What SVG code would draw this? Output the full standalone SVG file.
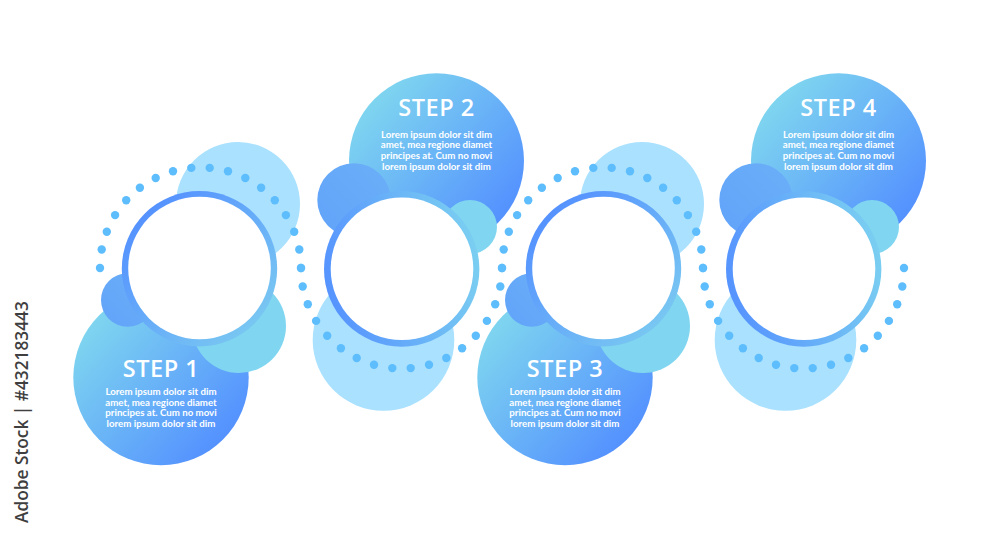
<svg xmlns="http://www.w3.org/2000/svg" xmlns:xlink="http://www.w3.org/1999/xlink" width="1000" height="539" viewBox="0 0 1000 539">
<style>
.light{fill:#a9e1ff}
.cyan{fill:#80d6f0}
.big{fill:url(#gBig)}
.small{fill:url(#gSmall)}
.hole{fill:#fff}
.h{font:600 23.5px "Open Sans","Liberation Sans",sans-serif;fill:#fff;text-anchor:middle;letter-spacing:.5px}
.b{font:700 9.7px Lato,"Liberation Sans",sans-serif;fill:#fff;text-anchor:middle}
.id{font:600 17.3px "Open Sans","Liberation Sans",sans-serif;fill:#3f3f3f}
.dot{fill:#5ebdfc}
</style>
<defs>
<linearGradient id="gBig" x1="0.12" y1="0.15" x2="0.88" y2="0.85"><stop offset="0" stop-color="#7fd6ef"/><stop offset="1" stop-color="#5390ff"/></linearGradient>
<linearGradient id="gSmall" x1="0.1" y1="0.9" x2="0.9" y2="0.1"><stop offset="0" stop-color="#62a4f9"/><stop offset="1" stop-color="#6aaef8"/></linearGradient>
<linearGradient id="gRing1" x1="0.15" y1="0.15" x2="0.85" y2="0.85"><stop offset="0" stop-color="#5592ff"/><stop offset="1" stop-color="#78c6f2"/></linearGradient>
<linearGradient id="gRing2" x1="0" y1="0.62" x2="1.115" y2="0.36"><stop offset="0" stop-color="#5592ff"/><stop offset="1" stop-color="#7fd6ef"/></linearGradient>
<g id="arc" class="dot">
<circle cx="-100.5" cy="0" r="4.2"/><circle cx="-98.8" cy="-18.5" r="4.2"/><circle cx="-93.7" cy="-36.3" r="4.2"/><circle cx="-85.4" cy="-52.9" r="4.2"/><circle cx="-74.3" cy="-67.7" r="4.2"/><circle cx="-60.6" cy="-80.2" r="4.2"/><circle cx="-44.8" cy="-90" r="4.2"/><circle cx="-27.5" cy="-96.7" r="4.2"/><circle cx="-9.2" cy="-100.1" r="4.2"/>
<circle cx="9.2" cy="-100.1" r="4.2"/><circle cx="27.5" cy="-96.7" r="4.2"/><circle cx="44.8" cy="-90" r="4.2"/><circle cx="60.6" cy="-80.2" r="4.2"/><circle cx="74.3" cy="-67.7" r="4.2"/><circle cx="85.4" cy="-52.9" r="4.2"/><circle cx="93.7" cy="-36.3" r="4.2"/><circle cx="98.8" cy="-18.5" r="4.2"/><circle cx="100.5" cy="0" r="4.2"/>
</g>
</defs>
<rect width="1000" height="539" fill="#fff"/>

<g id="step1">
<circle class="light" cx="238" cy="204" r="62"/>
<circle class="big" cx="161" cy="377.5" r="87.7"/>
<circle class="cyan" cx="239" cy="326" r="47"/>
<circle class="small" cx="127.7" cy="300" r="26.7"/>
<circle cx="199.5" cy="268.7" r="77.7" fill="url(#gRing1)"/>
<circle class="hole" cx="199.5" cy="268" r="71.3"/>
<text class="h" x="161" y="376.7">STEP 1</text>
<text class="b" x="161" y="395">Lorem ipsum dolor sit dim</text>
<text class="b" x="161" y="405.7">amet, mea regione diamet</text>
<text class="b" x="161" y="416.3">principes at. Cum no movi</text>
<text class="b" x="161" y="427">lorem ipsum dolor sit dim</text>
</g>

<g id="step2">
<circle class="light" cx="383.5" cy="340" r="70.8"/>
<circle class="big" cx="436.5" cy="160.7" r="87.5"/>
<circle class="small" cx="354" cy="200" r="36.7"/>
<circle class="cyan" cx="470" cy="227" r="27"/>
<circle cx="401.7" cy="269" r="77.7" fill="url(#gRing2)"/>
<circle class="hole" cx="402" cy="268.8" r="71.3"/>
<text class="h" x="436.5" y="115.7">STEP 2</text>
<text class="b" x="436.5" y="137.7">Lorem ipsum dolor sit dim</text>
<text class="b" x="436.5" y="148.4">amet, mea regione diamet</text>
<text class="b" x="436.5" y="159">principes at. Cum no movi</text>
<text class="b" x="436.5" y="169.7">lorem ipsum dolor sit dim</text>
</g>

<g id="step3">
<circle class="light" cx="642" cy="204" r="62"/>
<circle class="big" cx="565" cy="377.5" r="87.7"/>
<circle class="cyan" cx="643" cy="326" r="47"/>
<circle class="small" cx="531.7" cy="300" r="26.7"/>
<circle cx="603.5" cy="268.7" r="77.7" fill="url(#gRing1)"/>
<circle class="hole" cx="603.5" cy="268" r="71.3"/>
<text class="h" x="565" y="376.7">STEP 3</text>
<text class="b" x="565" y="395">Lorem ipsum dolor sit dim</text>
<text class="b" x="565" y="405.7">amet, mea regione diamet</text>
<text class="b" x="565" y="416.3">principes at. Cum no movi</text>
<text class="b" x="565" y="427">lorem ipsum dolor sit dim</text>
</g>

<g id="step4">
<circle class="light" cx="785.5" cy="340" r="70.8"/>
<circle class="big" cx="838.5" cy="160.7" r="87.5"/>
<circle class="small" cx="756" cy="200" r="36.7"/>
<circle class="cyan" cx="872" cy="227" r="27"/>
<circle cx="803.7" cy="269" r="77.7" fill="url(#gRing2)"/>
<circle class="hole" cx="804" cy="268.8" r="71.3"/>
<text class="h" x="838.5" y="115.7">STEP 4</text>
<text class="b" x="838.5" y="137.7">Lorem ipsum dolor sit dim</text>
<text class="b" x="838.5" y="148.4">amet, mea regione diamet</text>
<text class="b" x="838.5" y="159">principes at. Cum no movi</text>
<text class="b" x="838.5" y="169.7">lorem ipsum dolor sit dim</text>
</g>

<g id="connectors">
<use xlink:href="#arc" href="#arc" transform="translate(200.5 268)"/>
<use xlink:href="#arc" href="#arc" transform="translate(401.5 268) scale(1 -1)"/>
<use xlink:href="#arc" href="#arc" transform="translate(602.5 268)"/>
<use xlink:href="#arc" href="#arc" transform="translate(803.5 268) scale(1 -1)"/>
</g>

<text class="id" transform="translate(28 523) rotate(-90)">Adobe Stock | #432183443</text>
</svg>
